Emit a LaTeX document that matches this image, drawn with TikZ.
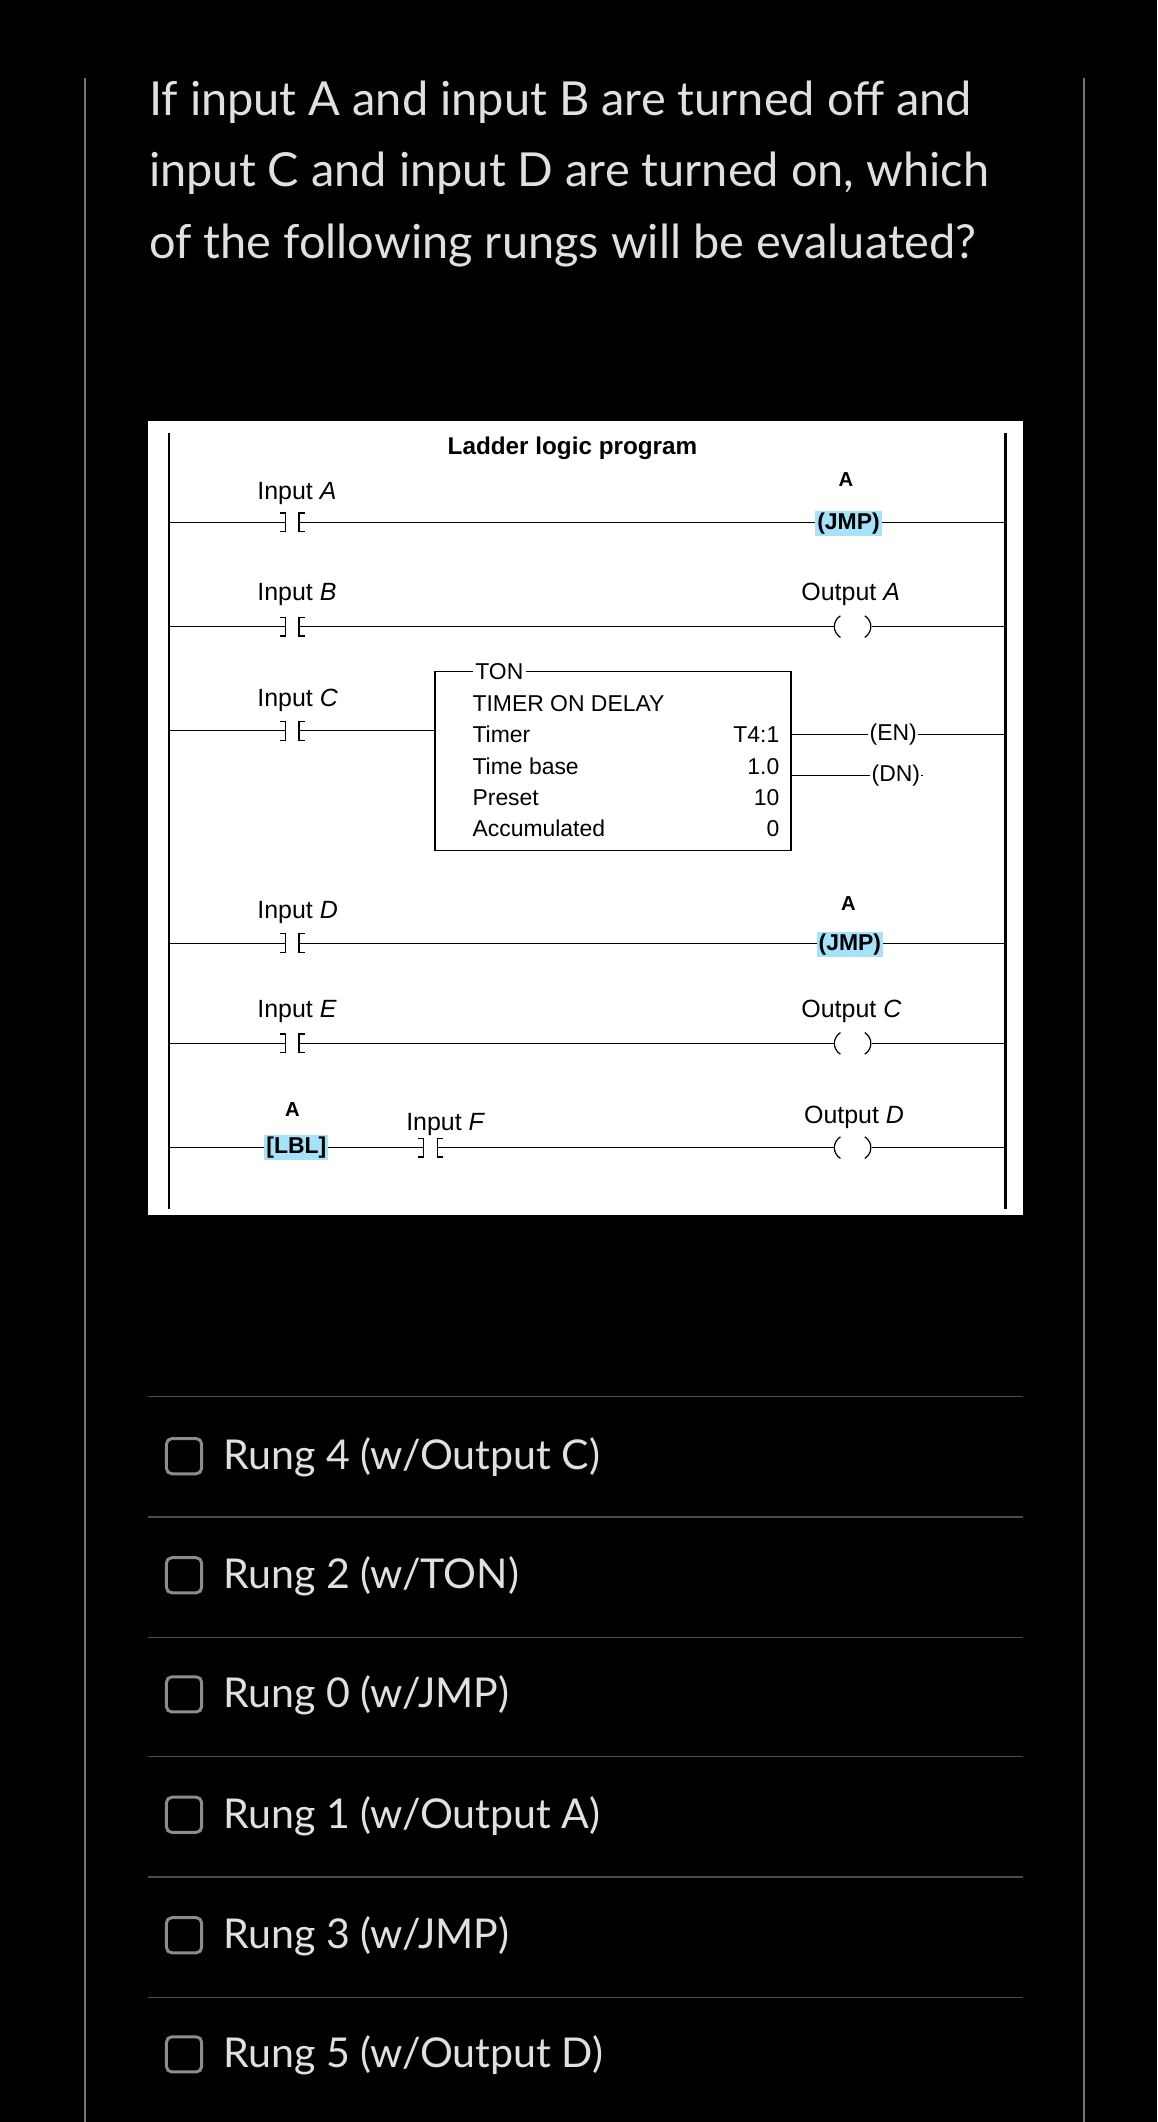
\documentclass[tikz,border=0pt]{standalone}
\usepackage{fontspec}
\setmainfont{Liberation Sans}
\newfontfamily\lato{Lato}
\begin{document}
\begin{tikzpicture}[x=1bp,y=-1bp,
  lbl/.style={font=\fontsize{18.5}{18.5}\selectfont, anchor=base west, inner sep=0},
  lblr/.style={font=\fontsize{18.5}{18.5}\selectfont, anchor=base west, inner sep=0},
  q/.style={font=\lato\fontsize{34.8}{34.8}\selectfont, text=white!88!black, anchor=base west, inner sep=0},
  opt/.style={font=\lato\fontsize{30.5}{30.5}\selectfont, text=white!88!black, anchor=base west, inner sep=0},
  box/.style={draw=white!55!black, line width=2.2pt, rounded corners=4bp, minimum size=26bp, inner sep=0},
  sep/.style={draw=white!30!black, line width=1pt},
  hl/.style={fill=cyan!35!white, inner sep=1.5bp, font=\fontsize{17}{17}\selectfont\bfseries},
  wire/.style={line width=0.9pt},
  contact/.pic={\fill[white](-5,-8) rectangle (5,8);
     \draw[line width=0.9pt] (-9,-7)--(-5,-7)--(-5,7)--(-9,7) (9,-7)--(5,-7)--(5,7)--(9,7);},
  coil/.pic={\fill[white](-14,-9) rectangle (14,9);
     \draw[line width=0.9pt] (-9,-8) .. controls (-15,-4) and (-15,4) .. (-9,8)
       (9,-8) .. controls (15,-4) and (15,4) .. (9,8);}
]
\fill[black] (0,0) rectangle (855,1568);
\useasboundingbox (0,0) rectangle (855,1568);
\draw[white!45!black, line width=1.2pt] (63,58)--(63,1568) (801,58)--(801,1568);
\node[q] (q1) at (110,85) {If input A and input B are turned off and};
\node[q] (q2) at (110,138) {input C and input D are turned on, which};
\node[q] (q3) at (110,191) {of the following rungs will be evaluated?};
% panel
\fill[white] (109,311) rectangle (756,898);
\coordinate (L0) at (125,320); \coordinate (L1) at (125,893);
\coordinate (R0) at (743,320); \coordinate (R1) at (743,893);
\draw[line width=1.6pt] (L0)--(L1) (R0)--(R1);
\node[font=\fontsize{18}{18}\selectfont\bfseries] (title) at (423,331) {Ladder logic program};
% rung 0
\coordinate (a0) at (125,386); \coordinate (b0) at (743,386);
\draw[wire] (a0)--(b0);
\pic at (216,386) {contact};
\node[lbl] (iA) at (190,369) {Input \textit{A}};
\node[hl] (jmp0) at (627,387) {(JMP)};
\node[font=\fontsize{15}{15}\selectfont\bfseries] (A0) at (625,354) {A};
% rung 1
\coordinate (a1) at (125,463); \coordinate (b1) at (743,463);
\draw[wire] (a1)--(b1);
\pic at (216,463) {contact};
\pic at (630,463) {coil};
\node[lblr] (iB) at (190,444) {Input \textit{B}};
\node[lblr] (oA) at (592,444) {Output \textit{A}};
% rung 2
\coordinate (a2) at (125,540);
\node[draw, line width=0.9pt, minimum width=263bp, minimum height=132bp, anchor=north west, inner sep=0] (ton) at (321,496) {};
\draw[wire] (a2)--(ton.west |- a2);
\pic at (216,540) {contact};
\node[lblr] (iC) at (190,522) {Input \textit{C}};
\node[fill=white, inner sep=2bp, font=\fontsize{17}{17}\selectfont] (tonl) at (369,496) {TON};
\foreach \t/\yy in {TIMER ON DELAY/526, Timer/549, Time base/572, Preset/595, Accumulated/618}
  \node[font=\fontsize{17}{17}\selectfont, anchor=base west, inner sep=0] at (349,\yy) {\t};
\foreach \t/\yy in {T4:1/549, 1.0/572, 10/595, 0/618}
  \node[font=\fontsize{17}{17}\selectfont, anchor=base east, inner sep=0] at (576,\yy) {\t};
\coordinate (b2) at (743,543); \coordinate (d2) at (682,573);
\draw[wire] (ton.east |- b2)--(b2);
\draw[wire] (ton.east |- d2)--(d2);
\node[fill=white, inner sep=1bp, font=\fontsize{17}{17}\selectfont] (en) at (660,543) {(EN)};
\node[fill=white, inner sep=1bp, font=\fontsize{17}{17}\selectfont] (dn) at (662,573) {(DN)};
% rung 3
\coordinate (a3) at (125,697); \coordinate (b3) at (743,697);
\draw[wire] (a3)--(b3);
\pic at (216,697) {contact};
\node[lbl] (iD) at (190,679) {Input \textit{D}};
\node[hl] (jmp3) at (628,698) {(JMP)};
\node[font=\fontsize{15}{15}\selectfont\bfseries] (A3) at (627,668) {A};
% rung 4
\coordinate (a4) at (125,771); \coordinate (b4) at (743,771);
\draw[wire] (a4)--(b4);
\pic at (216,771) {contact};
\pic at (630,771) {coil};
\node[lblr] (iE) at (190,752) {Input \textit{E}};
\node[lblr] (oC) at (592,752) {Output \textit{C}};
% rung 5
\coordinate (a5) at (125,848); \coordinate (b5) at (743,848);
\draw[wire] (a5)--(b5);
\node[hl] (lbl) at (219,848) {[LBL]};
\node[font=\fontsize{15}{15}\selectfont\bfseries] (A5) at (216,820) {A};
\pic at (318,848) {contact};
\node[lblr] (iF) at (300,835) {Input \textit{F}};
\pic at (630,848) {coil};
\node[lblr] (oD) at (594,830) {Output \textit{D}};
% options
\foreach \yy in {1032,1121,1210,1298,1387,1476}
  \draw[sep] (109,\yy)--(756,\yy);
\node[box] (bo1) at (136,1076) {}; \node[opt] (o1) at (165,1086) {Rung 4 (w/Output C)};
\node[box] (bo2) at (136,1164) {}; \node[opt] (o2) at (165,1174) {Rung 2 (w/TON)};
\node[box] (bo3) at (136,1252) {}; \node[opt] (o3) at (165,1262) {Rung 0 (w/JMP)};
\node[box] (bo4) at (136,1341) {}; \node[opt] (o4) at (165,1351) {Rung 1 (w/Output A)};
\node[box] (bo5) at (136,1430) {}; \node[opt] (o5) at (165,1440) {Rung 3 (w/JMP)};
\node[box] (bo6) at (136,1518) {}; \node[opt] (o6) at (165,1528) {Rung 5 (w/Output D)};
\end{tikzpicture}
\end{document}
